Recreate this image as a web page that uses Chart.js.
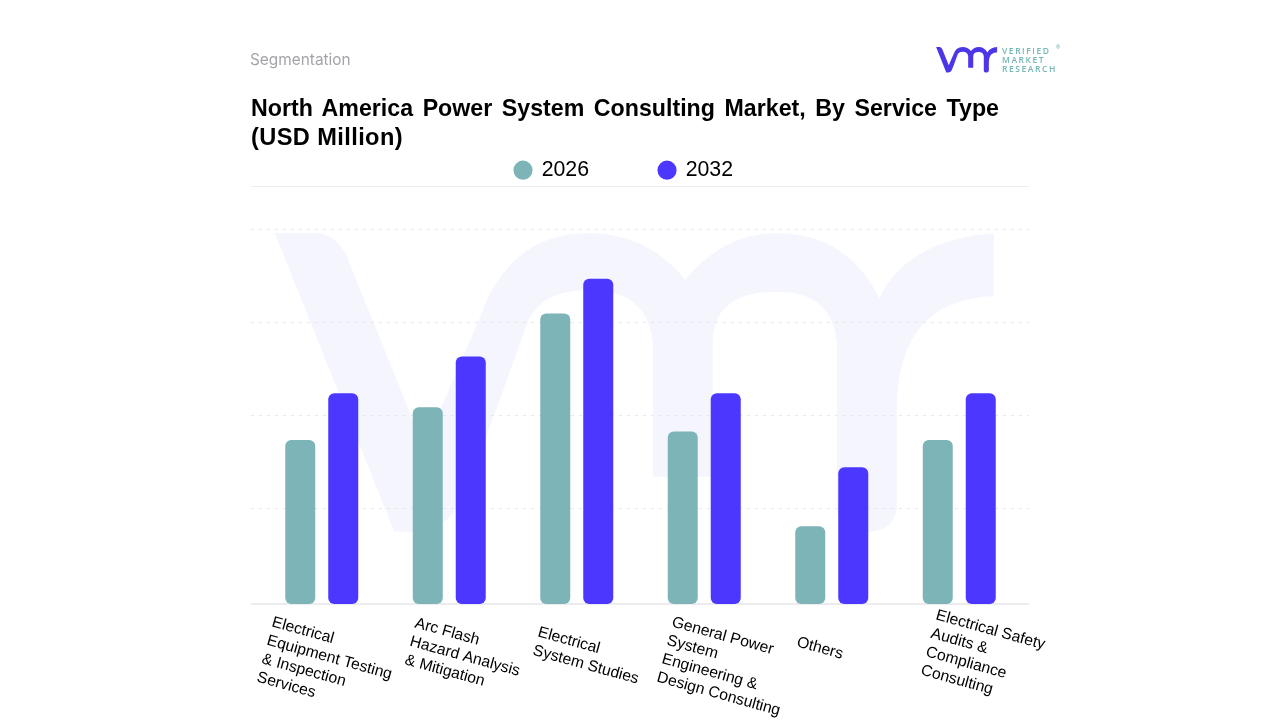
<!DOCTYPE html>
<html lang="en">
<head>
<meta charset="UTF-8">
<title>North America Power System Consulting Market</title>
<script src="https://cdn.jsdelivr.net/npm/chart.js"></script>
<style>
  html, body { margin: 0; padding: 0; background: #fff; }
  body { width: 1280px; height: 720px; position: relative; overflow: hidden; font-family: "Liberation Sans", sans-serif; }
  #watermark { position: absolute; left: 0; top: 0; }
  #chart { position: absolute; left: 0; top: 0; }
  #segmentation { position: absolute; left: 250px; top: 50px; font: 15.4px Inter, sans-serif; color: #a3a3ab; }
  .title { position: absolute; left: 251px; width: 748px; font-weight: bold; line-height: 29px; color: #000; white-space: nowrap; }
  #title1 { top: 94px; font-size: 23.2px; text-align: justify; text-align-last: justify; white-space: normal; }
  #title2 { top: 123px; font-size: 23.6px; letter-spacing: 0.4px; }
  #logo { position: absolute; left: 0; top: 0; }
  .logotext { position: absolute; left: 1002px; font: 600 8.5px "Open Sans", sans-serif; letter-spacing: 1.55px; color: #72b6b6; line-height: 9px; }
</style>
</head>
<body>
<svg id="watermark" width="1280" height="720">
  <path id="vmr" transform="translate(250,210) scale(0.4975,0.3333)" fill="#f5f6fd"
    d="M50 70 L140 70 Q175 80 195 140 L350 713 L385 590 L460 330 Q520 70 680 70 Q800 70 875 210 Q950 70 1060 70 Q1200 70 1265 265 Q1320 90 1495 70 L1495 258 Q1300 270 1300 600 L1300 900 Q1290 965 1240 965 Q1180 965 1180 900 L1180 400 Q1170 245 1060 245 Q930 245 930 400 L930 800 L810 800 L810 400 Q800 240 680 240 Q590 240 560 330 L470 700 L430 850 Q400 965 330 965 L290 965 Z"/>
</svg>
<canvas id="chart" width="1280" height="720"></canvas>
<div id="segmentation">Segmentation</div>
<div class="title" id="title1">North America Power System Consulting Market, By Service Type</div>
<div class="title" id="title2">(USD Million)</div>
<svg id="logo" width="1280" height="100">
  <path transform="translate(934,45) scale(0.0422,0.0285)" fill="#4b37e8"
    d="M50 70 L140 70 Q175 80 195 140 L350 713 L385 590 L460 330 Q520 70 680 70 Q800 70 875 210 Q950 70 1060 70 Q1200 70 1265 265 Q1320 90 1495 70 L1495 258 Q1300 270 1300 600 L1300 900 Q1290 965 1240 965 Q1180 965 1180 900 L1180 400 Q1170 245 1060 245 Q930 245 930 400 L930 800 L810 800 L810 400 Q800 240 680 240 Q590 240 560 330 L470 700 L430 850 Q400 965 330 965 L290 965 Z"/>
</svg>
<div class="logotext" style="top:46px">VERIFIED</div>
<div class="logotext" style="top:55px">MARKET</div>
<div class="logotext" style="top:64px">RESEARCH</div>
<div class="logotext" style="top:43px;left:1056px;font-size:5px;letter-spacing:0">®</div>

<script>
  const categories = [
    ["Electrical", "Equipment Testing", "& Inspection", "Services"],
    ["Arc Flash", "Hazard Analysis", "& Mitigation"],
    ["Electrical", "System Studies"],
    ["General Power", "System", "Engineering &", "Design Consulting"],
    ["Others"],
    ["Electrical Safety", "Audits &", "Compliance", "Consulting"]
  ];
  const values2026 = [175, 210, 310, 184, 83, 175];
  const values2032 = [225, 264, 347, 225, 146, 225];
  const gridValues = [102, 202, 301, 400];
  const axisMax = 446;

  // first line of each label, relative to the category centre
  const labelStart = [[-49.5, 18], [-34, 19], [-38.5, 28], [-32, 18], [-34.5, 38], [-23, 11]];
  const legendPadding = 70;

  // legend sits above the plot, its wide item gap must not push the plot down
  const placeLegend = {
    id: "placeLegend",
    beforeLayout(chart) {
      const legend = chart.legend;
      const fit = legend.fit;
      legend.fit = function () {
        fit.call(this);
        this.height = 0;
      };
    },
    afterLayout(chart) {
      const legend = chart.legend;
      legend.left = 515 - legendPadding;
      legend.right = legend.left + 500;
      legend.top = 170 - legendPadding - 10.5;
      legend.bottom = legend.top + 161;
    }
  };

  const ruleLines = {
    id: "ruleLines",
    beforeDatasetsDraw(chart) {
      const y = chart.scales.y, ctx = chart.ctx;
      ctx.save();
      ctx.strokeStyle = "#e7e7ec";
      ctx.lineWidth = 1;
      ctx.setLineDash([3, 5]);
      gridValues.forEach(v => {
        const py = Math.round(y.getPixelForValue(v)) + 0.5;
        ctx.beginPath(); ctx.moveTo(251, py); ctx.lineTo(1029, py); ctx.stroke();
      });
      ctx.setLineDash([]);
      ctx.strokeStyle = "#ececf0";
      let py = Math.round(y.getPixelForValue(axisMax)) + 0.5;
      ctx.beginPath(); ctx.moveTo(251, py); ctx.lineTo(1029, py); ctx.stroke();
      py = y.getPixelForValue(0);
      ctx.lineWidth = 2;
      ctx.beginPath(); ctx.moveTo(251, py); ctx.lineTo(1029, py); ctx.stroke();
      ctx.restore();
    }
  };

  const slantedLabels = {
    id: "slantedLabels",
    afterDraw(chart) {
      const x = chart.scales.x, ctx = chart.ctx;
      const base = chart.scales.y.getPixelForValue(0);
      ctx.save();
      ctx.font = '15.7px "Liberation Sans"';
      ctx.fillStyle = "#000";
      ctx.textAlign = "left";
      ctx.textBaseline = "middle";
      chart.data.labels.forEach((lines, i) => {
        const cx = x.getPixelForValue(i) + labelStart[i][0];
        const cy = base + labelStart[i][1];
        lines.forEach((line, n) => {
          ctx.save();
          ctx.translate(cx - 5 * n, cy + 18.4 * n);
          ctx.rotate(15.5 * Math.PI / 180);
          ctx.fillText(line, 0, 0);
          ctx.restore();
        });
      });
      ctx.restore();
    }
  };

  new Chart(document.getElementById("chart"), {
    type: "bar",
    data: {
      labels: categories,
      datasets: [
        { label: "2026", data: values2026, backgroundColor: "#7cb4b8", borderRadius: 6, borderSkipped: false },
        { label: "2032", data: values2032, backgroundColor: "#4b37ff", borderRadius: 6, borderSkipped: false }
      ]
    },
    options: {
      responsive: false,
      animation: false,
      categoryPercentage: 0.6745,
      barPercentage: 0.6977,
      layout: { padding: { left: 258, right: 257, top: 186, bottom: 108 } },
      plugins: {
        title: { display: false },
        tooltip: { enabled: false },
        legend: {
          position: "top",
          align: "start",
          labels: {
            usePointStyle: true,
            pointStyle: "circle",
            boxWidth: 16,
            boxHeight: 13.5,
            padding: legendPadding,
            color: "#000",
            font: { family: "Liberation Sans", size: 21.3 }
          }
        }
      },
      scales: {
        x: { grid: { display: false }, border: { display: false }, ticks: { display: false } },
        y: {
          min: 0,
          max: axisMax,
          display: false
        }
      }
    },
    plugins: [placeLegend, ruleLines, slantedLabels]
  });
</script>
</body>
</html>
